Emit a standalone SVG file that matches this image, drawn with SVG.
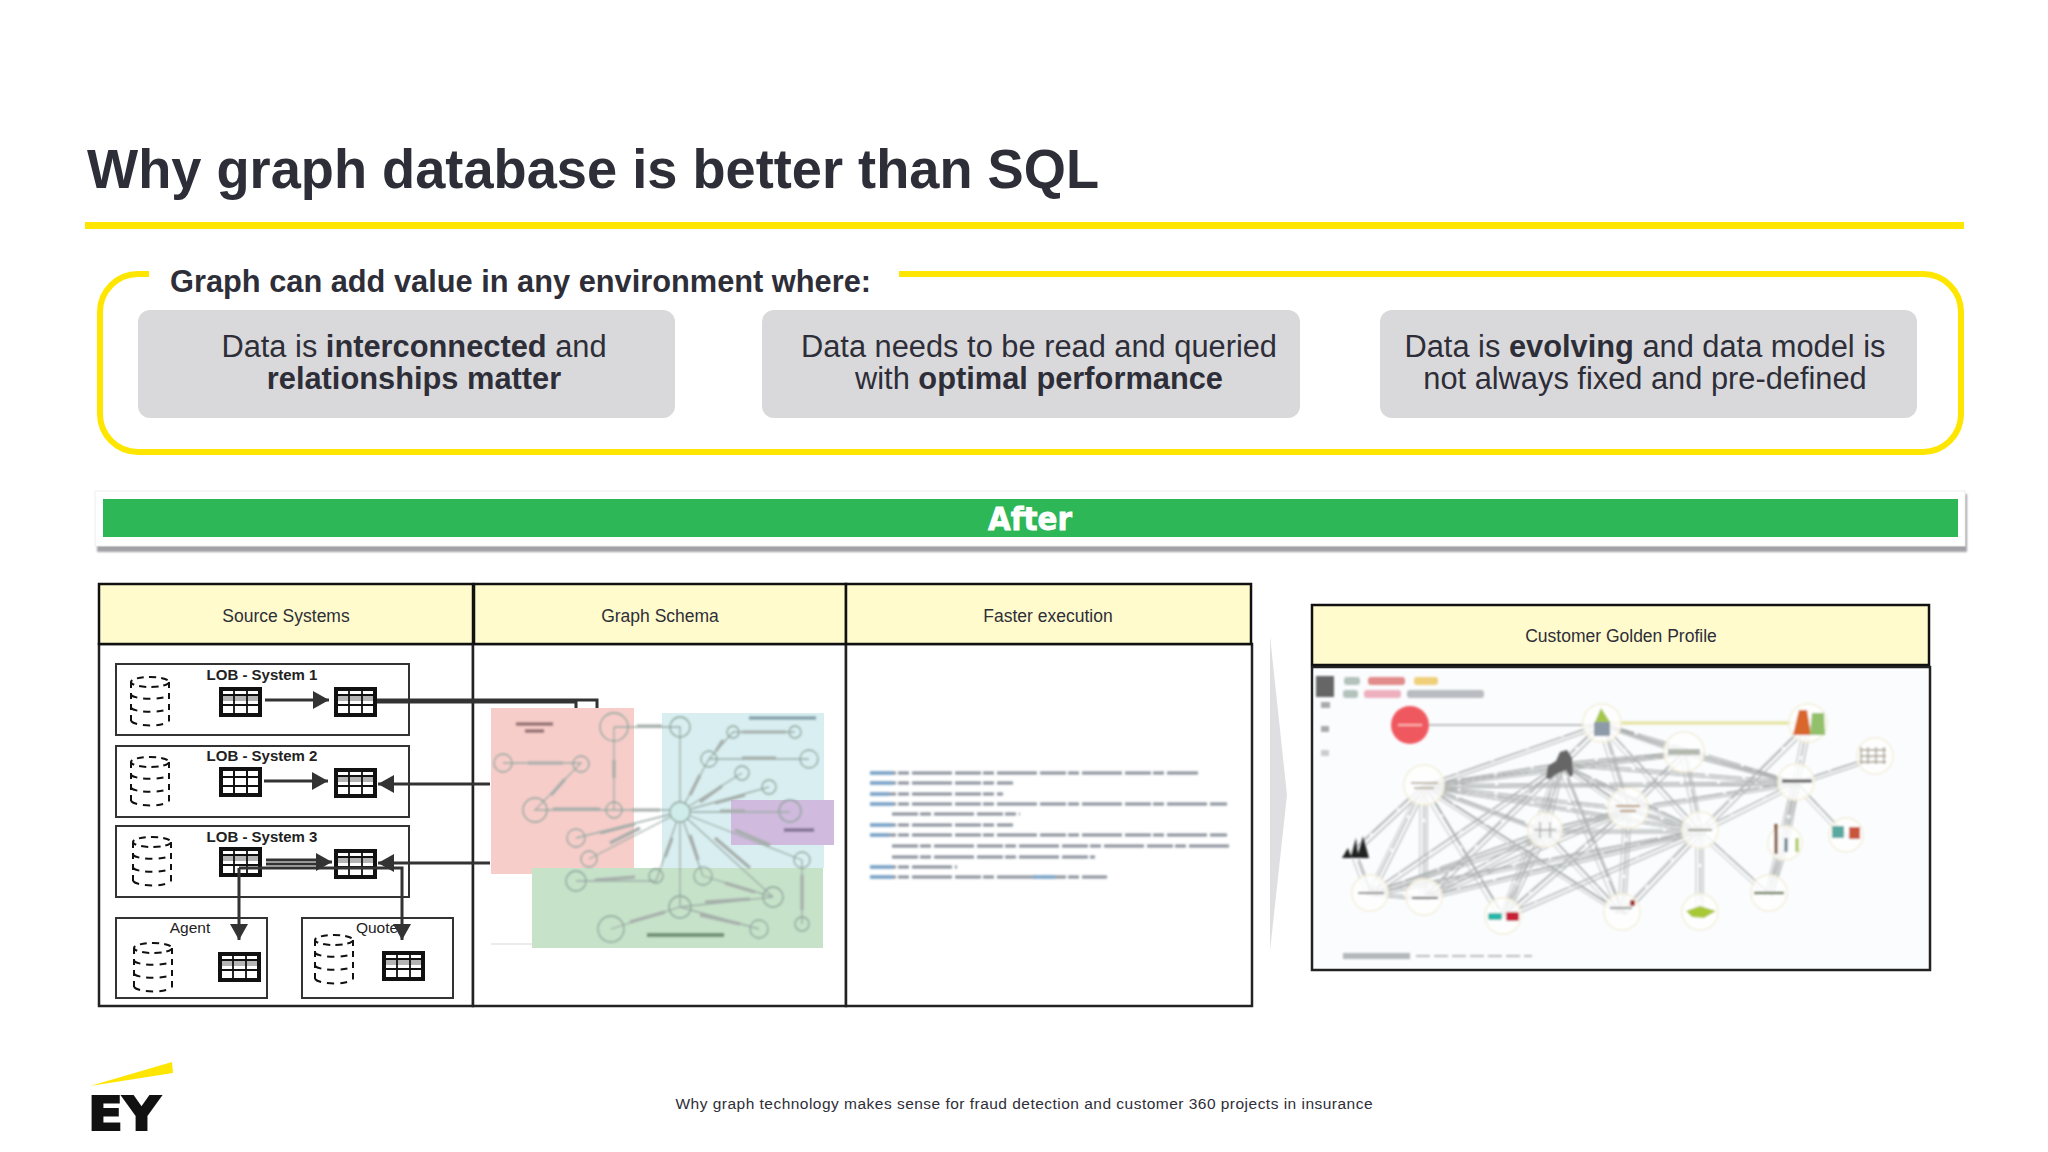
<svg xmlns="http://www.w3.org/2000/svg" xmlns:xlink="http://www.w3.org/1999/xlink" width="2048" height="1152" viewBox="0 0 2048 1152">
<style>
text{font-family:"Liberation Sans",Arial,sans-serif;fill:#2e2e38}
.b{font-weight:700}
.mid{text-anchor:middle}
.card{fill:#d9d9dc}
.ct{font-size:30.8px;text-anchor:middle}
.hdr{fill:#fffbcc;stroke:#111;stroke-width:2.5}
.body{fill:#fff;stroke:#222;stroke-width:2.5}
.ht{font-size:17.5px;text-anchor:middle}
.sys{fill:#fff;stroke:#333;stroke-width:2}
.lob{font-size:15px;font-weight:700;text-anchor:middle;fill:#222}
.lbl{font-size:15.5px;text-anchor:middle;fill:#222}
.con{fill:none;stroke:#333;stroke-width:3}
.arr{marker-end:url(#head)}
.sn{fill:none;stroke:#8fa69c;stroke-width:1.3}
.gn{fill:#fff;fill-opacity:.8;stroke:#f3eed8;stroke-width:1.5}
.code{fill:none;stroke:#8a929c;stroke-width:3.2;stroke-dasharray:26 2 11 3 40 3}
.kw{fill:none;stroke:#7da6cc;stroke-width:3.4}
</style>
<defs>
<marker id="head" markerUnits="userSpaceOnUse" markerWidth="17" markerHeight="18" refX="16" refY="9" orient="auto"><path d="M0 0L16 9L0 18z" fill="#333"/></marker>
<filter id="soft" x="-5%" y="-5%" width="110%" height="110%"><feGaussianBlur stdDeviation="1"/></filter>
<filter id="softer" x="-5%" y="-20%" width="110%" height="140%"><feGaussianBlur stdDeviation="1.3"/></filter>
<filter id="edge" x="-5%" y="-5%" width="110%" height="110%"><feGaussianBlur stdDeviation="0.6"/></filter>
<filter id="sh" x="-2%" y="-20%" width="104%" height="150%"><feGaussianBlur stdDeviation="1.2"/></filter>
<g id="cyl" fill="none" stroke="#111" stroke-width="2">
<ellipse cx="20" cy="6" rx="19" ry="5" stroke-dasharray="7 5"/>
<path d="M1 6V45M39 6V45" stroke-dasharray="6 5"/>
<path d="M1 19C6 24 34 24 39 19M1 32C6 37 34 37 39 32M1 45C6 51 34 51 39 45" stroke-dasharray="7 6"/>
</g>
<g id="tblg">
<rect x="2" y="2" width="39" height="26" fill="#fff" stroke="#111" stroke-width="4"/>
<rect x="4" y="8" width="35" height="6" fill="#b5b5b5"/>
<path d="M15 2V28M28 2V28M2 8H41M2 18H41" stroke="#111" stroke-width="1.8"/>
</g>
<g id="tbl">
<rect x="2" y="2" width="39" height="26" fill="#fff" stroke="#111" stroke-width="4"/>
<path d="M15 2V28M28 2V28M2 10H41M2 19H41" stroke="#111" stroke-width="2"/>
</g>
<path id="gnet" fill="none" d="M1424 785L1602 723M1424 785L1561 763M1424 785L1628 808M1424 785L1700 830M1424 785L1796 782M1424 785L1684 752M1424 785L1354 850M1424 785L1370 893M1424 785L1424 897M1424 785L1503 916M1424 785L1622 912M1424 785L1545 830M1370 893L1561 763M1370 893L1628 808M1370 893L1700 830M1370 893L1545 830M1370 893L1424 897M1370 893L1354 850M1424 897L1561 763M1424 897L1628 808M1424 897L1700 830M1424 897L1545 830M1503 916L1561 763M1503 916L1628 808M1503 916L1700 830M1503 916L1545 830M1622 912L1628 808M1622 912L1700 830M1622 912L1561 763M1622 912L1545 830M1561 763L1684 752M1561 763L1628 808M1561 763L1700 830M1561 763L1796 782M1561 763L1545 830M1602 723L1684 752M1602 723L1628 808M1602 723L1700 830M1602 723L1796 782M1602 723L1561 763M1684 752L1628 808M1684 752L1700 830M1684 752L1796 782M1808 723L1796 782M1808 723L1700 830M1796 782L1875 756M1796 782L1628 808M1796 782L1700 830M1796 782L1846 835M1796 782L1785 843M1796 782L1769 893M1628 808L1700 830M1628 808L1545 830M1700 830L1700 912M1700 830L1769 893M1700 830L1545 830M1769 893L1785 843"/>
</defs>

<g id="title"><text class="b" x="87" y="188" font-size="56" textLength="1012" lengthAdjust="spacingAndGlyphs">Why graph database is better than SQL</text></g>
<rect id="rule" x="85" y="222" width="1879" height="7" fill="#ffe600"/>

<g id="value-frame">
<path d="M149 274H138A38 38 0 0 0 100 312V414A38 38 0 0 0 138 452H1923A38 38 0 0 0 1961 414V312A38 38 0 0 0 1923 274H899" fill="none" stroke="#ffe600" stroke-width="6"/>
<text class="b" x="170" y="292" font-size="31" textLength="701" lengthAdjust="spacingAndGlyphs">Graph can add value in any environment where:</text>
</g>
<g id="card-1"><rect class="card" x="138" y="310" width="537" height="108" rx="12"/>
<text class="ct" x="414" y="357">Data is <tspan class="b">interconnected</tspan> and</text>
<text class="ct b" x="414" y="389">relationships matter</text></g>
<g id="card-2"><rect class="card" x="762" y="310" width="538" height="108" rx="12"/>
<text class="ct" x="1039" y="357">Data needs to be read and queried</text>
<text class="ct" x="1039" y="389">with <tspan class="b">optimal performance</tspan></text></g>
<g id="card-3"><rect class="card" x="1380" y="310" width="537" height="108" rx="12"/>
<text class="ct" x="1645" y="357">Data is <tspan class="b">evolving</tspan> and data model is</text>
<text class="ct" x="1645" y="389">not always fixed and pre-defined</text></g>

<g id="after-band">
<rect x="97" y="494" width="1870" height="58" fill="#a2a2a6" filter="url(#sh)"/>
<rect x="95" y="491" width="1870" height="55" fill="#fff" stroke="#eee" stroke-width="1"/>
<rect x="103" y="499" width="1855" height="38" fill="#2db757"/>
<text class="mid b" x="1030" y="530" font-size="32" style="font-family:'DejaVu Sans',sans-serif;fill:#fff;stroke:#fff;stroke-width:.8" textLength="84" lengthAdjust="spacingAndGlyphs">After</text>
</g>

<g id="col-source"><rect class="body" x="99" y="644" width="374" height="362"/><rect class="hdr" x="99" y="584" width="374" height="60"/><text class="ht" x="286" y="622">Source Systems</text></g>
<g id="col-schema"><rect class="body" x="473" y="644" width="373" height="362"/><rect class="hdr" x="474" y="584" width="372" height="60"/><text class="ht" x="660" y="622">Graph Schema</text></g>
<g id="col-exec"><rect class="body" x="846" y="644" width="406" height="362"/><rect class="hdr" x="846" y="584" width="405" height="60"/><text class="ht" x="1048" y="622">Faster execution</text></g>

<g id="lob-1"><rect class="sys" x="116" y="664" width="293" height="71"/><text class="lob" x="262" y="680">LOB - System 1</text><use href="#cyl" x="130" y="676"/><use href="#tblg" x="219" y="687"/><use href="#tblg" x="334" y="687"/></g>
<g id="lob-2"><rect class="sys" x="116" y="746" width="293" height="71"/><text class="lob" x="262" y="761">LOB - System 2</text><use href="#cyl" x="130" y="756"/><use href="#tbl" x="219" y="767"/><use href="#tblg" x="334" y="768"/></g>
<g id="lob-3"><rect class="sys" x="116" y="826" width="293" height="71"/><text class="lob" x="262" y="842">LOB - System 3</text><use href="#cyl" x="132" y="836"/><use href="#tblg" x="219" y="847"/><use href="#tblg" x="334" y="849"/></g>
<g id="agent"><rect class="sys" x="116" y="918" width="151" height="80"/><text class="lbl" x="190" y="933">Agent</text><use href="#cyl" x="133" y="942"/><use href="#tblg" x="218" y="952"/></g>
<g id="quote"><rect class="sys" x="302" y="918" width="151" height="80"/><text class="lbl" x="377" y="933">Quote</text><use href="#cyl" x="314" y="934"/><use href="#tblg" x="382" y="951"/></g>

<g id="graph-schema">
<g filter="url(#edge)">
<path d="M491 944H532" stroke="#e4e4e4" stroke-width="1.5"/>
<rect x="491" y="708" width="143" height="166" fill="#f7cdca"/>
<rect x="662" y="713" width="162" height="155" fill="#d8eef1"/>
<rect x="532" y="868" width="291" height="80" fill="#c6e2c9"/>
<rect x="731" y="800" width="103" height="45" fill="#d0bade"/>
</g>
<g filter="url(#softer)">
<path fill="none" stroke="#9dada6" stroke-width="1.3" d="M614 727H680V812M614 727V810M503 763H581L535 810H614H680M733 732H795M733 732L709 759H809M709 759L680 812M742 773L680 812M769 787L680 812H790M576 838L680 812M589 859L680 812M576 881H656L680 812M703 876L680 812M680 907V812M773 897L680 812M802 860L680 812M703 876L773 897L680 907L611 929M680 907L759 929M802 860V924"/>
<path fill="none" stroke="#a6aeaa" stroke-width="3.2" d="M637 726H662M528 763H563M565 779L551 795M614 760V778M553 809H600M632 810H660M742 732H786M742 758H776M723 740L716 751M700 775L690 795M722 786L700 802M745 795L715 803M720 811H745M600 833L635 824M610 843L640 828M595 880L635 877M665 857L672 838M698 860L690 835M750 868L715 838M770 845L735 830M725 883L755 892M705 902L750 899M630 922L665 912M700 915L740 924M802 875V910"/>
<g class="sn">
<circle cx="614" cy="727" r="14"/><circle cx="680" cy="727" r="10"/><circle cx="733" cy="732" r="6"/><circle cx="795" cy="732" r="6"/><circle cx="709" cy="759" r="8"/><circle cx="809" cy="759" r="9"/><circle cx="742" cy="773" r="7"/><circle cx="769" cy="787" r="7"/><circle cx="680" cy="812" r="10" fill="#cfeceb"/><circle cx="790" cy="811" r="11"/><circle cx="503" cy="763" r="9"/><circle cx="581" cy="764" r="8"/><circle cx="535" cy="810" r="12"/><circle cx="614" cy="810" r="8"/><circle cx="576" cy="838" r="9"/><circle cx="589" cy="859" r="8"/><circle cx="576" cy="881" r="10"/><circle cx="656" cy="876" r="7"/><circle cx="703" cy="876" r="9"/><circle cx="773" cy="897" r="10"/><circle cx="680" cy="907" r="11"/><circle cx="611" cy="929" r="13"/><circle cx="759" cy="929" r="9"/><circle cx="802" cy="860" r="8"/><circle cx="802" cy="924" r="7"/>
</g>
<path fill="none" stroke="#8a6a6a" stroke-width="3" d="M516 724H553M525 731H544"/>
<path fill="none" stroke="#7c98a2" stroke-width="3" d="M749 718H816"/>
<path fill="none" stroke="#7a6a8a" stroke-width="3" d="M784 830H814"/>
<path fill="none" stroke="#6a8a70" stroke-width="3.5" d="M647 935H724"/>
</g>
</g>

<g id="connectors">
<path class="con arr" d="M265 700H329"/>
<path class="con" d="M377 700H597V708M377 702H576V708"/>
<path class="con arr" d="M264 781H328"/>
<path class="con arr" d="M490 784H378"/>
<path class="con" d="M266 860H320M266 864H320"/>
<path class="con arr" d="M320 862H332"/>
<path class="con arr" d="M490 863H378"/>
<path class="con arr" d="M239 868V940"/>
<path class="con arr" d="M239 868H402V940"/>
</g>

<g id="query" filter="url(#softer)">
<path class="code" d="M870 773H1198M870 783H1013M870 794H1003M870 804H1227M892 814H1020M870 825H1013M870 835H1227M892 846H1230M892 857H1095M870 867H957M870 877H1107"/>
<path class="kw" d="M870 773H893M870 783H893M870 794H889M870 804H893M870 825H893M870 835H889M870 867H893M870 877H893M1033 877H1055"/>
</g>

<path id="chevron" d="M1270 636L1287 795L1270 951Z" fill="#dfdfe1"/>

<g id="golden-profile">
<rect class="hdr" x="1312" y="605" width="617" height="60"/>
<text class="ht" x="1621" y="642">Customer Golden Profile</text>
<rect x="1312" y="667" width="618" height="303" fill="#fafcfe" stroke="#222" stroke-width="2.5"/>
<g filter="url(#soft)">
<rect x="1316" y="676" width="18" height="21" fill="#666"/>
<rect x="1321" y="702" width="9" height="6" fill="#aaa"/><rect x="1321" y="726" width="8" height="6" fill="#aaa"/><rect x="1321" y="750" width="8" height="6" fill="#ccc"/>
<rect x="1344" y="677" width="16" height="8" rx="3" fill="#b4c2bc"/><rect x="1368" y="677" width="37" height="8" rx="3" fill="#e28b8b"/><rect x="1414" y="677" width="24" height="8" rx="3" fill="#efcf7a"/>
<rect x="1343" y="690" width="15" height="8" rx="3" fill="#b4c2bc"/><rect x="1364" y="690" width="37" height="8" rx="3" fill="#eeb0bf"/><rect x="1407" y="690" width="77" height="8" rx="3" fill="#b9bcc0"/>
<use href="#gnet" stroke="#a4a7a6" stroke-width="1.2" stroke-dasharray="34 3"/>
<use href="#gnet" x="3" y="3" stroke="#aeb1b0" stroke-width="1.1"/>
<use href="#gnet" x="-4" y="2" stroke="#b8bbba" stroke-width="1"/>
<path d="M1410 725H1602" stroke="#aaa" stroke-width="1.4"/>
<path d="M1602 723H1808" stroke="#e4e29a" stroke-width="3"/>
<g class="gn">
<circle cx="1602" cy="723" r="19"/><circle cx="1808" cy="723" r="19"/><circle cx="1684" cy="752" r="20"/><circle cx="1424" cy="785" r="20"/><circle cx="1796" cy="782" r="18"/><circle cx="1875" cy="756" r="18"/><circle cx="1628" cy="808" r="20"/><circle cx="1700" cy="830" r="18"/><circle cx="1545" cy="830" r="17"/><circle cx="1846" cy="835" r="17"/><circle cx="1785" cy="843" r="17"/><circle cx="1370" cy="893" r="18"/><circle cx="1424" cy="897" r="18"/><circle cx="1503" cy="916" r="18"/><circle cx="1622" cy="912" r="18"/><circle cx="1700" cy="912" r="18"/><circle cx="1769" cy="893" r="18"/>
</g>
<circle cx="1410" cy="725" r="19" fill="#f0595f"/>
<rect x="1398" y="724" width="24" height="2" fill="#f9b0b0"/>
<path d="M1595 722L1601 708L1610 722Z" fill="#a4c64a"/><rect x="1594" y="722" width="16" height="14" fill="#8d9aa8"/>
<path d="M1793 735L1799 710L1807 710L1811 735Z" fill="#d9662a"/><path d="M1810 735L1812 713L1824 713L1825 735Z" fill="#93c06a"/>
<rect x="1668" y="749" width="32" height="6" fill="#b4b9b0"/>
<path d="M1546 778L1548 766L1556 761L1560 752L1567 750L1572 758L1573 775L1570 777L1566 770L1556 774L1550 779Z" fill="#666"/>
<path d="M1411 783H1438M1414 788H1434" stroke="#a59f8a" stroke-width="1.6"/>
<path d="M1782 781H1812" stroke="#555" stroke-width="3"/>
<path d="M1861 747V764M1868 747V764M1876 747V764M1884 747V764M1860 750H1886M1860 756H1886M1860 762H1886" stroke="#a8a090" stroke-width="1.4"/>
<path d="M1616 806H1640M1620 811H1636" stroke="#b89a72" stroke-width="2"/>
<path d="M1688 830H1712" stroke="#9a9a8a" stroke-width="2"/>
<path d="M1534 830H1556M1540 822V838M1550 822V838" stroke="#aaa" stroke-width="1.4"/>
<rect x="1832" y="826" width="12" height="12" fill="#5aa9a0"/><rect x="1849" y="827" width="11" height="12" fill="#c9553a"/>
<path d="M1776 824V854" stroke="#7a4a2a" stroke-width="3"/><path d="M1786 838V852" stroke="#5a7a8a" stroke-width="3"/><path d="M1797 838V852" stroke="#a4c64a" stroke-width="3"/>
<path d="M1342 858L1348 848L1351 856L1356 838L1358 854L1363 836L1369 858Z" fill="#222"/>
<path d="M1358 893H1384" stroke="#888" stroke-width="2"/>
<path d="M1412 898H1438" stroke="#666" stroke-width="2"/>
<rect x="1488" y="913" width="14" height="7" rx="2" fill="#28b8a8"/><rect x="1506" y="912" width="13" height="9" rx="2" fill="#c8243a"/>
<path d="M1610 908H1632" stroke="#999" stroke-width="2"/><rect x="1630" y="900" width="5" height="6" fill="#a33"/>
<path d="M1686 911L1700 906L1716 911L1704 918L1692 917Z" fill="#a9c838"/>
<path d="M1754 893H1784" stroke="#6a7a5a" stroke-width="2.5"/>
<rect x="1343" y="953" width="67" height="6" fill="#b4b7ba"/>
<path d="M1416 956H1532" stroke="#bbb" stroke-width="2" stroke-dasharray="14 4"/>
</g>
</g>

<g id="ey-logo">
<path d="M90 1086L172 1062L173 1073Z" fill="#ffe600"/>
<text x="88" y="1130" font-size="46" style="font-family:'DejaVu Sans',sans-serif;font-weight:700;fill:#111;stroke:#111;stroke-width:2" textLength="72" lengthAdjust="spacingAndGlyphs">EY</text>
</g>
<text id="footer" class="mid" x="1024" y="1109" font-size="15.5" textLength="697" lengthAdjust="spacing">Why graph technology makes sense for fraud detection and customer 360 projects in insurance</text>
</svg>
